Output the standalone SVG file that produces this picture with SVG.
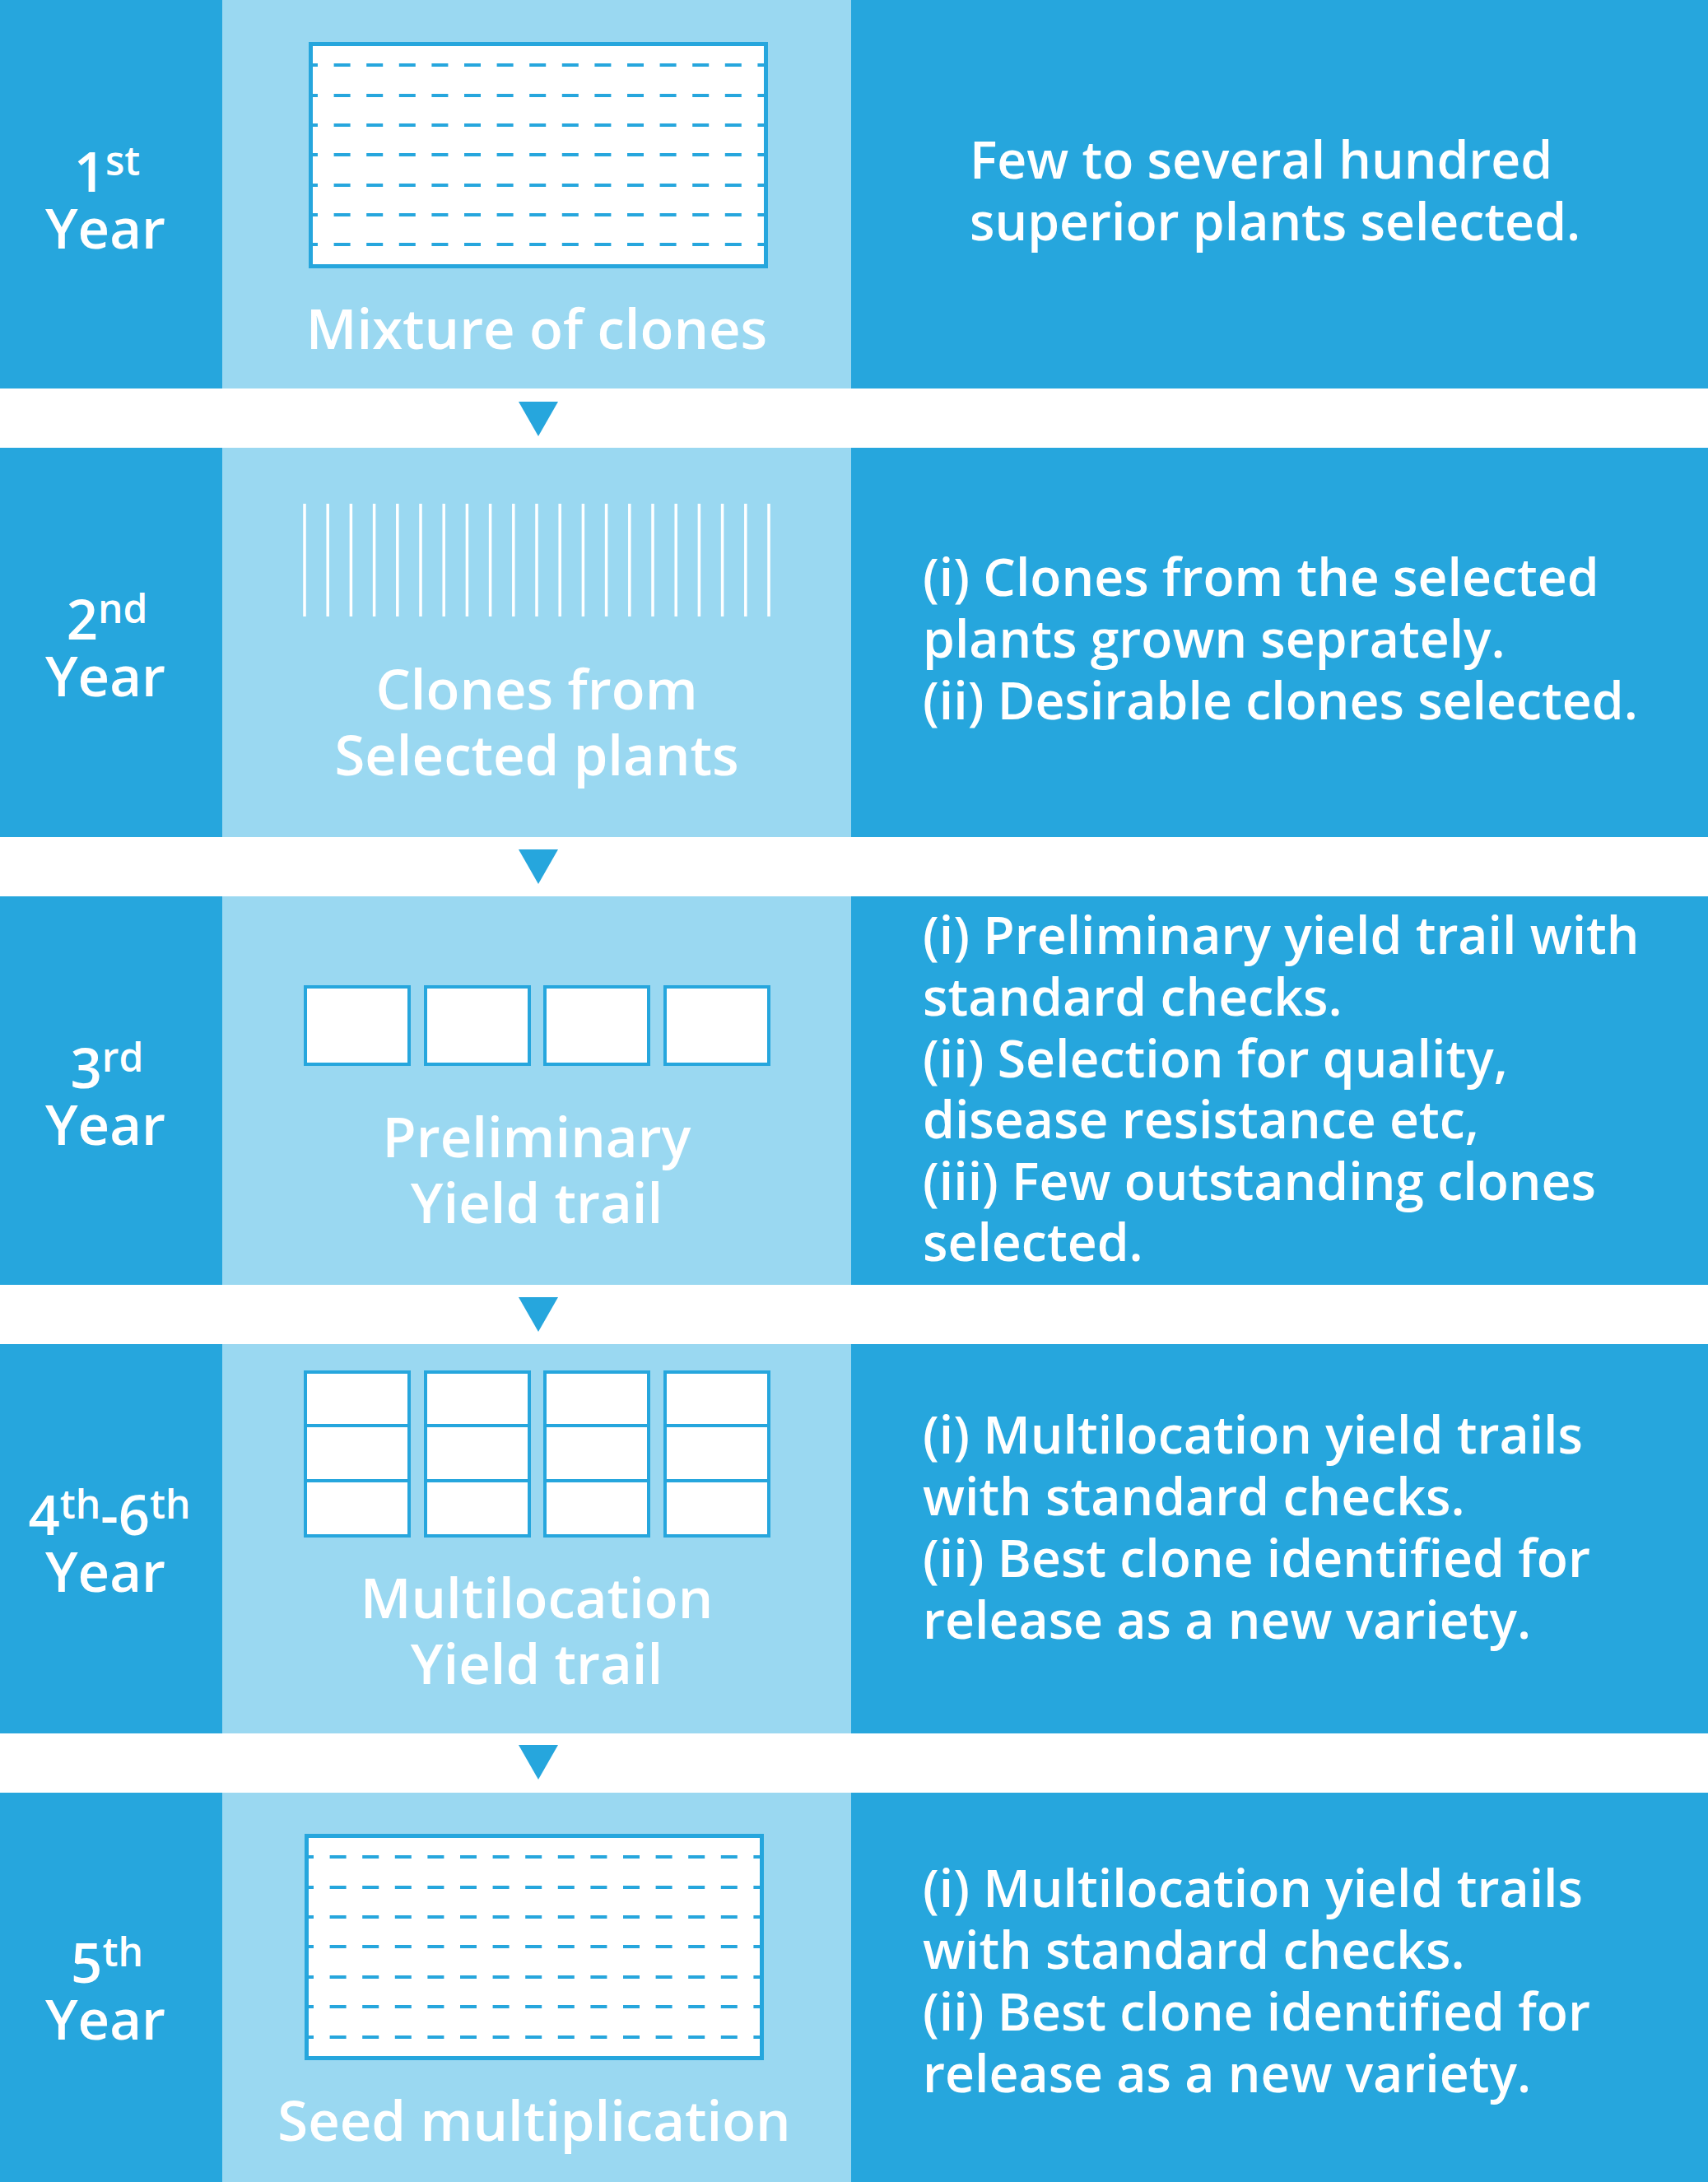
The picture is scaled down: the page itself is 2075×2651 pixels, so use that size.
<svg xmlns="http://www.w3.org/2000/svg" width="2075" height="2651" viewBox="0 0 2075 2651">
<style>
.dark{fill:#26a6dd}
.light{fill:#9ad8f1}
.t{font-family:"Open Sans","Liberation Sans",sans-serif;font-weight:600;fill:#ffffff}
.yr{font-size:67px;text-anchor:middle}
.sup{font-size:48px}
.mid{font-size:67px;text-anchor:middle}
.rt{font-size:62.5px}
.box{fill:#ffffff;stroke:#26a6dd;stroke-width:5}
.cell{fill:#ffffff;stroke:#26a6dd;stroke-width:4}
.dash{stroke:#26a6dd;stroke-width:4.2;stroke-dasharray:20 19.6;stroke-dashoffset:14;fill:none}
.vl{stroke:#ffffff;stroke-width:3.5}
.arr{fill:#26a6dd}
</style>
<rect width="2075" height="2651" fill="#ffffff"/>

<g id="row1">
<rect class="dark" x="0" y="0" width="270" height="472"/>
<rect class="light" x="270" y="0" width="764" height="472"/>
<rect class="dark" x="1034" y="0" width="1041" height="472"/>
<text class="t yr" x="130" y="233">1<tspan class="sup" dy="-20">st</tspan></text>
<text class="t yr" x="128" y="302">Year</text>
<rect class="box" x="377.5" y="53.5" width="553" height="270"/>
<g class="dash">
<line x1="380" y1="79" x2="928" y2="79"/>
<line x1="380" y1="116" x2="928" y2="116"/>
<line x1="380" y1="152" x2="928" y2="152"/>
<line x1="380" y1="188" x2="928" y2="188"/>
<line x1="380" y1="225" x2="928" y2="225"/>
<line x1="380" y1="261" x2="928" y2="261"/>
<line x1="380" y1="297" x2="928" y2="297"/>
</g>
<text class="t mid" x="652" y="424">Mixture of clones</text>
<text class="t rt" x="1178" y="217">Few to several hundred</text>
<text class="t rt" x="1178" y="292">superior plants selected.</text>
</g>

<g id="row2">
<rect class="dark" x="0" y="544" width="270" height="473"/>
<rect class="light" x="270" y="544" width="764" height="473"/>
<rect class="dark" x="1034" y="544" width="1041" height="473"/>
<text class="t yr" x="130" y="777">2<tspan class="sup" dy="-20">nd</tspan></text>
<text class="t yr" x="128" y="846">Year</text>
<g class="vl">
<line x1="370" y1="612" x2="370" y2="749"/>
<line x1="398.2" y1="612" x2="398.2" y2="749"/>
<line x1="426.4" y1="612" x2="426.4" y2="749"/>
<line x1="454.6" y1="612" x2="454.6" y2="749"/>
<line x1="482.8" y1="612" x2="482.8" y2="749"/>
<line x1="511" y1="612" x2="511" y2="749"/>
<line x1="539.2" y1="612" x2="539.2" y2="749"/>
<line x1="567.4" y1="612" x2="567.4" y2="749"/>
<line x1="595.6" y1="612" x2="595.6" y2="749"/>
<line x1="623.8" y1="612" x2="623.8" y2="749"/>
<line x1="652" y1="612" x2="652" y2="749"/>
<line x1="680.2" y1="612" x2="680.2" y2="749"/>
<line x1="708.4" y1="612" x2="708.4" y2="749"/>
<line x1="736.6" y1="612" x2="736.6" y2="749"/>
<line x1="764.8" y1="612" x2="764.8" y2="749"/>
<line x1="793" y1="612" x2="793" y2="749"/>
<line x1="821.2" y1="612" x2="821.2" y2="749"/>
<line x1="849.4" y1="612" x2="849.4" y2="749"/>
<line x1="877.6" y1="612" x2="877.6" y2="749"/>
<line x1="905.8" y1="612" x2="905.8" y2="749"/>
<line x1="934" y1="612" x2="934" y2="749"/>
</g>
<text class="t mid" x="652" y="862">Clones from</text>
<text class="t mid" x="652" y="942">Selected plants</text>
<text class="t rt" x="1121" y="724">(i) Clones from the selected</text>
<text class="t rt" x="1121" y="799">plants grown seprately.</text>
<text class="t rt" x="1121" y="874">(ii) Desirable clones selected.</text>
</g>

<g id="row3">
<rect class="dark" x="0" y="1089" width="270" height="472"/>
<rect class="light" x="270" y="1089" width="764" height="472"/>
<rect class="dark" x="1034" y="1089" width="1041" height="472"/>
<text class="t yr" x="130" y="1322">3<tspan class="sup" dy="-20">rd</tspan></text>
<text class="t yr" x="128" y="1391">Year</text>
<rect class="cell" x="371" y="1199" width="126" height="94"/>
<rect class="cell" x="517" y="1199" width="126" height="94"/>
<rect class="cell" x="662" y="1199" width="126" height="94"/>
<rect class="cell" x="808" y="1199" width="126" height="94"/>
<text class="t mid" x="652" y="1406">Preliminary</text>
<text class="t mid" x="652" y="1486">Yield trail</text>
<text class="t rt" x="1121" y="1159">(i) Preliminary yield trail with</text>
<text class="t rt" x="1121" y="1233.5">standard checks.</text>
<text class="t rt" x="1121" y="1308.5">(ii) Selection for quality,</text>
<text class="t rt" x="1121" y="1383">disease resistance etc,</text>
<text class="t rt" x="1121" y="1457.5">(iii) Few outstanding clones</text>
<text class="t rt" x="1121" y="1532">selected.</text>
</g>

<g id="row4">
<rect class="dark" x="0" y="1633" width="270" height="473"/>
<rect class="light" x="270" y="1633" width="764" height="473"/>
<rect class="dark" x="1034" y="1633" width="1041" height="473"/>
<text class="t yr" x="133" y="1865">4<tspan class="sup" dy="-20">th</tspan><tspan dy="20">-6</tspan><tspan class="sup" dy="-20">th</tspan></text>
<text class="t yr" x="128" y="1934">Year</text>
<rect class="cell" x="371" y="1667" width="126" height="199"/>
<rect class="cell" x="517" y="1667" width="126" height="199"/>
<rect class="cell" x="662" y="1667" width="126" height="199"/>
<rect class="cell" x="808" y="1667" width="126" height="199"/>
<g stroke="#26a6dd" stroke-width="4">
<line x1="371" y1="1732" x2="497" y2="1732"/>
<line x1="517" y1="1732" x2="643" y2="1732"/>
<line x1="662" y1="1732" x2="788" y2="1732"/>
<line x1="808" y1="1732" x2="934" y2="1732"/>
<line x1="371" y1="1799" x2="497" y2="1799"/>
<line x1="517" y1="1799" x2="643" y2="1799"/>
<line x1="662" y1="1799" x2="788" y2="1799"/>
<line x1="808" y1="1799" x2="934" y2="1799"/>
</g>
<text class="t mid" x="652" y="1966">Multilocation</text>
<text class="t mid" x="652" y="2046">Yield trail</text>
<text class="t rt" x="1121" y="1766">(i) Multilocation yield trails</text>
<text class="t rt" x="1121" y="1841">with standard checks.</text>
<text class="t rt" x="1121" y="1916">(ii) Best clone identified for</text>
<text class="t rt" x="1121" y="1991">release as a new variety.</text>
</g>

<g id="row5">
<rect class="dark" x="0" y="2178" width="270" height="473"/>
<rect class="light" x="270" y="2178" width="764" height="473"/>
<rect class="dark" x="1034" y="2178" width="1041" height="473"/>
<text class="t yr" x="130" y="2409">5<tspan class="sup" dy="-20">th</tspan></text>
<text class="t yr" x="128" y="2478">Year</text>
<rect class="box" x="372.5" y="2230.5" width="553" height="270"/>
<g class="dash">
<line x1="375" y1="2256" x2="923" y2="2256"/>
<line x1="375" y1="2293" x2="923" y2="2293"/>
<line x1="375" y1="2329" x2="923" y2="2329"/>
<line x1="375" y1="2365" x2="923" y2="2365"/>
<line x1="375" y1="2402" x2="923" y2="2402"/>
<line x1="375" y1="2438" x2="923" y2="2438"/>
<line x1="375" y1="2475" x2="923" y2="2475"/>
</g>
<text class="t mid" x="649" y="2601">Seed multiplication</text>
<text class="t rt" x="1121" y="2317">(i) Multilocation yield trails</text>
<text class="t rt" x="1121" y="2392">with standard checks.</text>
<text class="t rt" x="1121" y="2467">(ii) Best clone identified for</text>
<text class="t rt" x="1121" y="2542">release as a new variety.</text>
</g>

<g id="connectors">
<polygon class="arr" points="630,488 678,488 654,530"/>
<polygon class="arr" points="630,1032 678,1032 654,1074"/>
<polygon class="arr" points="630,1576 678,1576 654,1618"/>
<polygon class="arr" points="630,2120 678,2120 654,2162"/>
</g>
</svg>
